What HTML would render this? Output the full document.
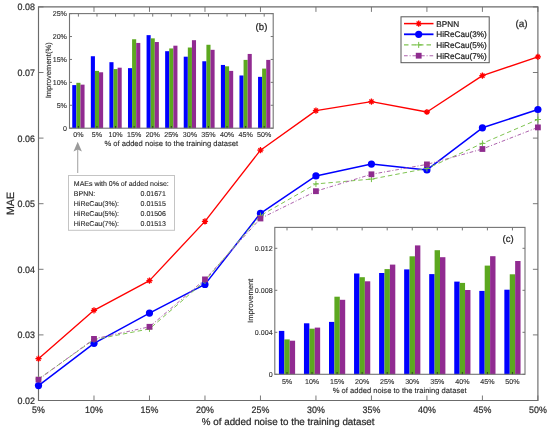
<!DOCTYPE html><html><head><meta charset="utf-8"><title>MAE vs noise</title>
<style>html,body{margin:0;padding:0;background:#fff;}svg{display:block;}text{text-rendering:geometricPrecision;font-family:'Liberation Sans', Arial, Helvetica, sans-serif;fill:#2a2a2a;}</style></head><body>
<svg width="550" height="432" viewBox="0 0 550 432">
<rect x="0" y="0" width="550" height="432" fill="#fff"/>
<path d="M38.50,400.50V395.50M38.50,6.90V11.90M93.99,400.50V395.50M93.99,6.90V11.90M149.48,400.50V395.50M149.48,6.90V11.90M204.97,400.50V395.50M204.97,6.90V11.90M260.46,400.50V395.50M260.46,6.90V11.90M315.94,400.50V395.50M315.94,6.90V11.90M371.43,400.50V395.50M371.43,6.90V11.90M426.92,400.50V395.50M426.92,6.90V11.90M482.41,400.50V395.50M482.41,6.90V11.90M537.90,400.50V395.50M537.90,6.90V11.90M38.50,400.50H43.50M537.90,400.50H532.90M38.50,334.90H43.50M537.90,334.90H532.90M38.50,269.30H43.50M537.90,269.30H532.90M38.50,203.70H43.50M537.90,203.70H532.90M38.50,138.10H43.50M537.90,138.10H532.90M38.50,72.50H43.50M537.90,72.50H532.90M38.50,6.90H43.50M537.90,6.90H532.90" stroke="#7a7a7a" stroke-width="1" fill="none"/>
<text transform="translate(38.50,412.80) scale(0.95,1)" font-size="9.37" text-anchor="middle" fill="#333" stroke="#333" stroke-width="0.22">5%</text>
<text transform="translate(93.99,412.80) scale(0.95,1)" font-size="9.37" text-anchor="middle" fill="#333" stroke="#333" stroke-width="0.22">10%</text>
<text transform="translate(149.48,412.80) scale(0.95,1)" font-size="9.37" text-anchor="middle" fill="#333" stroke="#333" stroke-width="0.22">15%</text>
<text transform="translate(204.97,412.80) scale(0.95,1)" font-size="9.37" text-anchor="middle" fill="#333" stroke="#333" stroke-width="0.22">20%</text>
<text transform="translate(260.46,412.80) scale(0.95,1)" font-size="9.37" text-anchor="middle" fill="#333" stroke="#333" stroke-width="0.22">25%</text>
<text transform="translate(315.94,412.80) scale(0.95,1)" font-size="9.37" text-anchor="middle" fill="#333" stroke="#333" stroke-width="0.22">30%</text>
<text transform="translate(371.43,412.80) scale(0.95,1)" font-size="9.37" text-anchor="middle" fill="#333" stroke="#333" stroke-width="0.22">35%</text>
<text transform="translate(426.92,412.80) scale(0.95,1)" font-size="9.37" text-anchor="middle" fill="#333" stroke="#333" stroke-width="0.22">40%</text>
<text transform="translate(482.41,412.80) scale(0.95,1)" font-size="9.37" text-anchor="middle" fill="#333" stroke="#333" stroke-width="0.22">45%</text>
<text transform="translate(537.90,412.80) scale(0.95,1)" font-size="9.37" text-anchor="middle" fill="#333" stroke="#333" stroke-width="0.22">50%</text>
<text transform="translate(34.90,404.00) scale(0.95,1)" font-size="9.37" text-anchor="end" fill="#333" stroke="#333" stroke-width="0.22">0.02</text>
<text transform="translate(34.90,338.40) scale(0.95,1)" font-size="9.37" text-anchor="end" fill="#333" stroke="#333" stroke-width="0.22">0.03</text>
<text transform="translate(34.90,272.80) scale(0.95,1)" font-size="9.37" text-anchor="end" fill="#333" stroke="#333" stroke-width="0.22">0.04</text>
<text transform="translate(34.90,207.20) scale(0.95,1)" font-size="9.37" text-anchor="end" fill="#333" stroke="#333" stroke-width="0.22">0.05</text>
<text transform="translate(34.90,141.60) scale(0.95,1)" font-size="9.37" text-anchor="end" fill="#333" stroke="#333" stroke-width="0.22">0.06</text>
<text transform="translate(34.90,76.00) scale(0.95,1)" font-size="9.37" text-anchor="end" fill="#333" stroke="#333" stroke-width="0.22">0.07</text>
<text transform="translate(34.90,10.40) scale(0.95,1)" font-size="9.37" text-anchor="end" fill="#333" stroke="#333" stroke-width="0.22">0.08</text>
<text transform="translate(288.20,424.90) scale(1.0,1)" font-size="9.80" text-anchor="middle" fill="#2a2a2a" stroke="#2a2a2a" stroke-width="0.22">% of added noise to the training dataset</text>
<text transform="translate(13.9,203.5) rotate(-90)" font-size="10.6" text-anchor="middle" stroke="#2a2a2a" stroke-width="0.22">MAE</text>
<text transform="translate(515.40,27.30) scale(1.0,1)" font-size="10.00" fill="#2a2a2a" stroke="#2a2a2a" stroke-width="0.22">(a)</text>
<path d="M38.50,6.90H537.90V400.50H38.50Z" fill="none" stroke="#6b6b6b" stroke-width="1.15"/>
<polyline points="38.50,358.70 93.99,310.30 149.48,280.60 204.97,221.40 260.46,150.20 315.94,110.60 371.43,101.60 426.92,112.00 482.41,75.60 537.90,56.80" fill="none" stroke="#ff0000" stroke-width="1.35" stroke-linejoin="round"/>
<path d="M38.50,361.80L38.50,355.60M36.42,360.78L40.58,356.62M35.40,358.70L41.60,358.70M36.42,356.62L40.58,360.78" stroke="#ff0000" stroke-width="1.3" fill="none"/><circle cx="38.50" cy="358.70" r="1.3" fill="#ff0000"/>
<path d="M93.99,313.40L93.99,307.20M91.91,312.38L96.07,308.22M90.89,310.30L97.09,310.30M91.91,308.22L96.07,312.38" stroke="#ff0000" stroke-width="1.3" fill="none"/><circle cx="93.99" cy="310.30" r="1.3" fill="#ff0000"/>
<path d="M149.48,283.70L149.48,277.50M147.40,282.68L151.56,278.52M146.38,280.60L152.58,280.60M147.40,278.52L151.56,282.68" stroke="#ff0000" stroke-width="1.3" fill="none"/><circle cx="149.48" cy="280.60" r="1.3" fill="#ff0000"/>
<path d="M204.97,224.50L204.97,218.30M202.88,223.48L207.05,219.32M201.87,221.40L208.07,221.40M202.88,219.32L207.05,223.48" stroke="#ff0000" stroke-width="1.3" fill="none"/><circle cx="204.97" cy="221.40" r="1.3" fill="#ff0000"/>
<path d="M260.46,153.30L260.46,147.10M258.37,152.28L262.54,148.12M257.36,150.20L263.56,150.20M258.37,148.12L262.54,152.28" stroke="#ff0000" stroke-width="1.3" fill="none"/><circle cx="260.46" cy="150.20" r="1.3" fill="#ff0000"/>
<path d="M315.94,113.70L315.94,107.50M313.86,112.68L318.03,108.52M312.84,110.60L319.04,110.60M313.86,108.52L318.03,112.68" stroke="#ff0000" stroke-width="1.3" fill="none"/><circle cx="315.94" cy="110.60" r="1.3" fill="#ff0000"/>
<path d="M371.43,104.70L371.43,98.50M369.35,103.68L373.52,99.52M368.33,101.60L374.53,101.60M369.35,99.52L373.52,103.68" stroke="#ff0000" stroke-width="1.3" fill="none"/><circle cx="371.43" cy="101.60" r="1.3" fill="#ff0000"/>
<path d="M426.92,115.10L426.92,108.90M424.84,114.08L429.00,109.92M423.82,112.00L430.02,112.00M424.84,109.92L429.00,114.08" stroke="#ff0000" stroke-width="1.3" fill="none"/><circle cx="426.92" cy="112.00" r="1.3" fill="#ff0000"/>
<path d="M482.41,78.70L482.41,72.50M480.33,77.68L484.49,73.52M479.31,75.60L485.51,75.60M480.33,73.52L484.49,77.68" stroke="#ff0000" stroke-width="1.3" fill="none"/><circle cx="482.41" cy="75.60" r="1.3" fill="#ff0000"/>
<path d="M537.90,59.90L537.90,53.70M535.82,58.88L539.98,54.72M534.80,56.80L541.00,56.80M535.82,54.72L539.98,58.88" stroke="#ff0000" stroke-width="1.3" fill="none"/><circle cx="537.90" cy="56.80" r="1.3" fill="#ff0000"/>
<polyline points="38.50,385.60 93.99,343.30 149.48,313.10 204.97,284.40 260.46,213.30 315.94,175.90 371.43,164.10 426.92,169.90 482.41,127.80 537.90,109.50" fill="none" stroke="#0000ff" stroke-width="1.5" stroke-linejoin="round"/>
<circle cx="38.50" cy="385.60" r="3.6" fill="#0000ff"/>
<circle cx="93.99" cy="343.30" r="3.6" fill="#0000ff"/>
<circle cx="149.48" cy="313.10" r="3.6" fill="#0000ff"/>
<circle cx="204.97" cy="284.40" r="3.6" fill="#0000ff"/>
<circle cx="260.46" cy="213.30" r="3.6" fill="#0000ff"/>
<circle cx="315.94" cy="175.90" r="3.6" fill="#0000ff"/>
<circle cx="371.43" cy="164.10" r="3.6" fill="#0000ff"/>
<circle cx="426.92" cy="169.90" r="3.6" fill="#0000ff"/>
<circle cx="482.41" cy="127.80" r="3.6" fill="#0000ff"/>
<circle cx="537.90" cy="109.50" r="3.6" fill="#0000ff"/>
<polyline points="38.50,379.00 93.99,339.60 149.48,328.90 204.97,281.00 260.46,215.60 315.94,183.90 371.43,179.10 426.92,168.50 482.41,143.40 537.90,119.50" fill="none" stroke="#80c452" stroke-width="1.0" stroke-dasharray="4.5,3" stroke-linejoin="round"/>
<path d="M35.50,379.00H41.50M38.50,376.00V382.00" stroke="#74bf45" stroke-width="1.0" fill="none"/>
<path d="M90.99,339.60H96.99M93.99,336.60V342.60" stroke="#74bf45" stroke-width="1.0" fill="none"/>
<path d="M146.48,328.90H152.48M149.48,325.90V331.90" stroke="#74bf45" stroke-width="1.0" fill="none"/>
<path d="M201.97,281.00H207.97M204.97,278.00V284.00" stroke="#74bf45" stroke-width="1.0" fill="none"/>
<path d="M257.46,215.60H263.46M260.46,212.60V218.60" stroke="#74bf45" stroke-width="1.0" fill="none"/>
<path d="M312.94,183.90H318.94M315.94,180.90V186.90" stroke="#74bf45" stroke-width="1.0" fill="none"/>
<path d="M368.43,179.10H374.43M371.43,176.10V182.10" stroke="#74bf45" stroke-width="1.0" fill="none"/>
<path d="M423.92,168.50H429.92M426.92,165.50V171.50" stroke="#74bf45" stroke-width="1.0" fill="none"/>
<path d="M479.41,143.40H485.41M482.41,140.40V146.40" stroke="#74bf45" stroke-width="1.0" fill="none"/>
<path d="M534.90,119.50H540.90M537.90,116.50V122.50" stroke="#74bf45" stroke-width="1.0" fill="none"/>
<polyline points="38.50,379.60 93.99,338.90 149.48,326.80 204.97,279.40 260.46,218.50 315.94,191.20 371.43,174.30 426.92,164.40 482.41,149.00 537.90,127.40" fill="none" stroke="#ad62ad" stroke-width="1.0" stroke-dasharray="3.7,1.9,1,1.9" stroke-linejoin="round"/>
<rect x="35.60" y="376.70" width="5.8" height="5.8" fill="#8e2c8e"/>
<rect x="91.09" y="336.00" width="5.8" height="5.8" fill="#8e2c8e"/>
<rect x="146.58" y="323.90" width="5.8" height="5.8" fill="#8e2c8e"/>
<rect x="202.07" y="276.50" width="5.8" height="5.8" fill="#8e2c8e"/>
<rect x="257.56" y="215.60" width="5.8" height="5.8" fill="#8e2c8e"/>
<rect x="313.04" y="188.30" width="5.8" height="5.8" fill="#8e2c8e"/>
<rect x="368.53" y="171.40" width="5.8" height="5.8" fill="#8e2c8e"/>
<rect x="424.02" y="161.50" width="5.8" height="5.8" fill="#8e2c8e"/>
<rect x="479.51" y="146.10" width="5.8" height="5.8" fill="#8e2c8e"/>
<rect x="535.00" y="124.50" width="5.8" height="5.8" fill="#8e2c8e"/>
<rect x="401.0" y="16.8" width="88.20" height="45.90" fill="#fff" stroke="#555" stroke-width="1"/>
<line x1="404.0" y1="23.6" x2="433.5" y2="23.6" stroke="#ff0000" stroke-width="1.5"/>
<path d="M418.70,26.70L418.70,20.50M416.62,25.68L420.78,21.52M415.60,23.60L421.80,23.60M416.62,21.52L420.78,25.68" stroke="#ff0000" stroke-width="1.3" fill="none"/><circle cx="418.70" cy="23.60" r="1.3" fill="#ff0000"/>
<line x1="404.0" y1="34.3" x2="433.5" y2="34.3" stroke="#0000ff" stroke-width="1.8"/>
<circle cx="418.70" cy="34.30" r="3.6" fill="#0000ff"/>
<line x1="404.0" y1="44.9" x2="433.5" y2="44.9" stroke="#80c452" stroke-width="1.1" stroke-dasharray="4.5,3"/>
<path d="M415.70,44.90H421.70M418.70,41.90V47.90" stroke="#74bf45" stroke-width="1.0" fill="none"/>
<line x1="404.0" y1="55.7" x2="433.5" y2="55.7" stroke="#ad62ad" stroke-width="1.1" stroke-dasharray="3.7,1.9,1,1.9"/>
<rect x="415.80" y="52.80" width="5.8" height="5.8" fill="#8e2c8e"/>
<text transform="translate(436.30,26.60) scale(1.0,1)" font-size="8.20" fill="#1a1a1a" stroke="#1a1a1a" stroke-width="0.22">BPNN</text>
<text transform="translate(436.30,37.30) scale(1.0,1)" font-size="8.20" fill="#1a1a1a" stroke="#1a1a1a" stroke-width="0.22">HiReCau(3%)</text>
<text transform="translate(436.30,47.90) scale(1.0,1)" font-size="8.20" fill="#1a1a1a" stroke="#1a1a1a" stroke-width="0.22">HiReCau(5%)</text>
<text transform="translate(436.30,58.70) scale(1.0,1)" font-size="8.20" fill="#1a1a1a" stroke="#1a1a1a" stroke-width="0.22">HiReCau(7%)</text>
<rect x="69.5" y="13.6" width="203.7" height="114.60" fill="#fff"/>
<rect x="72.25" y="85.11" width="4.1" height="43.09" fill="#0000ff"/>
<rect x="76.35" y="82.82" width="4.1" height="45.38" fill="#5ca81f"/>
<rect x="80.45" y="84.65" width="4.1" height="43.55" fill="#912b91"/>
<rect x="90.83" y="56.23" width="4.1" height="71.97" fill="#0000ff"/>
<rect x="94.93" y="70.90" width="4.1" height="57.30" fill="#5ca81f"/>
<rect x="99.03" y="72.28" width="4.1" height="55.92" fill="#912b91"/>
<rect x="109.41" y="62.19" width="4.1" height="66.01" fill="#0000ff"/>
<rect x="113.51" y="69.07" width="4.1" height="59.13" fill="#5ca81f"/>
<rect x="117.61" y="67.69" width="4.1" height="60.51" fill="#912b91"/>
<rect x="127.99" y="68.15" width="4.1" height="60.05" fill="#0000ff"/>
<rect x="132.09" y="39.27" width="4.1" height="88.93" fill="#5ca81f"/>
<rect x="136.19" y="42.94" width="4.1" height="85.26" fill="#912b91"/>
<rect x="146.57" y="35.14" width="4.1" height="93.06" fill="#0000ff"/>
<rect x="150.67" y="38.35" width="4.1" height="89.85" fill="#5ca81f"/>
<rect x="154.77" y="42.02" width="4.1" height="86.18" fill="#912b91"/>
<rect x="165.15" y="51.19" width="4.1" height="77.01" fill="#0000ff"/>
<rect x="169.25" y="48.44" width="4.1" height="79.76" fill="#5ca81f"/>
<rect x="173.35" y="45.69" width="4.1" height="82.51" fill="#912b91"/>
<rect x="183.73" y="56.69" width="4.1" height="71.51" fill="#0000ff"/>
<rect x="187.83" y="47.52" width="4.1" height="80.68" fill="#5ca81f"/>
<rect x="191.93" y="40.19" width="4.1" height="88.01" fill="#912b91"/>
<rect x="202.31" y="61.27" width="4.1" height="66.93" fill="#0000ff"/>
<rect x="206.41" y="44.77" width="4.1" height="83.43" fill="#5ca81f"/>
<rect x="210.51" y="49.81" width="4.1" height="78.39" fill="#912b91"/>
<rect x="220.89" y="64.94" width="4.1" height="63.26" fill="#0000ff"/>
<rect x="224.99" y="66.32" width="4.1" height="61.88" fill="#5ca81f"/>
<rect x="229.09" y="70.90" width="4.1" height="57.30" fill="#912b91"/>
<rect x="239.47" y="75.48" width="4.1" height="52.72" fill="#0000ff"/>
<rect x="243.57" y="59.90" width="4.1" height="68.30" fill="#5ca81f"/>
<rect x="247.67" y="53.94" width="4.1" height="74.26" fill="#912b91"/>
<rect x="258.05" y="76.86" width="4.1" height="51.34" fill="#0000ff"/>
<rect x="262.15" y="68.61" width="4.1" height="59.59" fill="#5ca81f"/>
<rect x="266.25" y="59.90" width="4.1" height="68.30" fill="#912b91"/>
<path d="M78.40,13.6V16.6M96.98,13.6V16.6M115.56,13.6V16.6M134.14,13.6V16.6M152.72,13.6V16.6M171.30,13.6V16.6M189.88,13.6V16.6M208.46,13.6V16.6M227.04,13.6V16.6M245.62,13.6V16.6M264.20,13.6V16.6M69.5,128.20H72.0M273.2,128.20H270.7M69.5,105.28H72.0M273.2,105.28H270.7M69.5,82.36H72.0M273.2,82.36H270.7M69.5,59.44H72.0M273.2,59.44H270.7M69.5,36.52H72.0M273.2,36.52H270.7M69.5,13.60H72.0M273.2,13.60H270.7" stroke="#666" stroke-width="0.9" fill="none"/>
<path d="M78.40,128.2V125.99999999999999M96.98,128.2V125.99999999999999M115.56,128.2V125.99999999999999M134.14,128.2V125.99999999999999M152.72,128.2V125.99999999999999M171.30,128.2V125.99999999999999M189.88,128.2V125.99999999999999M208.46,128.2V125.99999999999999M227.04,128.2V125.99999999999999M245.62,128.2V125.99999999999999M264.20,128.2V125.99999999999999" stroke="#222" stroke-width="0.9" fill="none"/>
<rect x="69.5" y="13.6" width="203.7" height="114.60" fill="none" stroke="#747474" stroke-width="1.1"/>
<text transform="translate(78.40,137.10) scale(1.0,1)" font-size="7.10" text-anchor="middle" fill="#333" stroke="#333" stroke-width="0.12">0%</text>
<text transform="translate(96.98,137.10) scale(1.0,1)" font-size="7.10" text-anchor="middle" fill="#333" stroke="#333" stroke-width="0.12">5%</text>
<text transform="translate(115.56,137.10) scale(1.0,1)" font-size="7.10" text-anchor="middle" fill="#333" stroke="#333" stroke-width="0.12">10%</text>
<text transform="translate(134.14,137.10) scale(1.0,1)" font-size="7.10" text-anchor="middle" fill="#333" stroke="#333" stroke-width="0.12">15%</text>
<text transform="translate(152.72,137.10) scale(1.0,1)" font-size="7.10" text-anchor="middle" fill="#333" stroke="#333" stroke-width="0.12">20%</text>
<text transform="translate(171.30,137.10) scale(1.0,1)" font-size="7.10" text-anchor="middle" fill="#333" stroke="#333" stroke-width="0.12">25%</text>
<text transform="translate(189.88,137.10) scale(1.0,1)" font-size="7.10" text-anchor="middle" fill="#333" stroke="#333" stroke-width="0.12">30%</text>
<text transform="translate(208.46,137.10) scale(1.0,1)" font-size="7.10" text-anchor="middle" fill="#333" stroke="#333" stroke-width="0.12">35%</text>
<text transform="translate(227.04,137.10) scale(1.0,1)" font-size="7.10" text-anchor="middle" fill="#333" stroke="#333" stroke-width="0.12">40%</text>
<text transform="translate(245.62,137.10) scale(1.0,1)" font-size="7.10" text-anchor="middle" fill="#333" stroke="#333" stroke-width="0.12">45%</text>
<text transform="translate(264.20,137.10) scale(1.0,1)" font-size="7.10" text-anchor="middle" fill="#333" stroke="#333" stroke-width="0.12">50%</text>
<text transform="translate(66.90,130.80) scale(1.0,1)" font-size="7.10" text-anchor="end" fill="#333" stroke="#333" stroke-width="0.12">0</text>
<text transform="translate(66.90,107.88) scale(1.0,1)" font-size="7.10" text-anchor="end" fill="#333" stroke="#333" stroke-width="0.12">5%</text>
<text transform="translate(66.90,84.96) scale(1.0,1)" font-size="7.10" text-anchor="end" fill="#333" stroke="#333" stroke-width="0.12">10%</text>
<text transform="translate(66.90,62.04) scale(1.0,1)" font-size="7.10" text-anchor="end" fill="#333" stroke="#333" stroke-width="0.12">15%</text>
<text transform="translate(66.90,39.12) scale(1.0,1)" font-size="7.10" text-anchor="end" fill="#333" stroke="#333" stroke-width="0.12">20%</text>
<text transform="translate(66.90,16.20) scale(1.0,1)" font-size="7.10" text-anchor="end" fill="#333" stroke="#333" stroke-width="0.12">25%</text>
<text transform="translate(171.30,146.40) scale(1.0,1)" font-size="7.60" text-anchor="middle" fill="#2a2a2a" stroke="#2a2a2a" stroke-width="0.12">% of added noise to the training dataset</text>
<text transform="translate(50.8,70.3) rotate(-90)" font-size="7.6" text-anchor="middle" stroke="#2a2a2a" stroke-width="0.12">Improvement(%)</text>
<text transform="translate(255.60,30.20) scale(1.0,1)" font-size="9.60" fill="#1a1a1a" stroke="#1a1a1a" stroke-width="0.22">(b)</text>
<line x1="77.7" y1="173" x2="77.7" y2="149" stroke="#a8a8a8" stroke-width="1.1"/>
<path d="M77.7,141.7 L81.9,151.6 L77.7,149.6 L73.5,151.6 Z" fill="#9a9a9a"/>
<rect x="68.5" y="175.5" width="106" height="54.8" fill="#fff" stroke="#c4c4c4" stroke-width="1"/>
<text transform="translate(73.80,185.90) scale(1.0,1)" font-size="7.00" fill="#262626" stroke="#262626" stroke-width="0.12">MAEs with 0% of added noise:</text>
<text transform="translate(73.80,195.80) scale(1.0,1)" font-size="7.00" fill="#262626" stroke="#262626" stroke-width="0.12">BPNN:</text>
<text transform="translate(140.60,195.80) scale(1.0,1)" font-size="7.00" fill="#262626" stroke="#262626" stroke-width="0.12">0.01671</text>
<text transform="translate(73.80,205.70) scale(1.0,1)" font-size="7.00" fill="#262626" stroke="#262626" stroke-width="0.12">HiReCau(3%):</text>
<text transform="translate(140.60,205.70) scale(1.0,1)" font-size="7.00" fill="#262626" stroke="#262626" stroke-width="0.12">0.01515</text>
<text transform="translate(73.80,215.60) scale(1.0,1)" font-size="7.00" fill="#262626" stroke="#262626" stroke-width="0.12">HiReCau(5%):</text>
<text transform="translate(140.60,215.60) scale(1.0,1)" font-size="7.00" fill="#262626" stroke="#262626" stroke-width="0.12">0.01506</text>
<text transform="translate(73.80,225.50) scale(1.0,1)" font-size="7.00" fill="#262626" stroke="#262626" stroke-width="0.12">HiReCau(7%):</text>
<text transform="translate(140.60,225.50) scale(1.0,1)" font-size="7.00" fill="#262626" stroke="#262626" stroke-width="0.12">0.01513</text>
<rect x="274.8" y="227.4" width="250.20" height="146.90" fill="#fff"/>
<rect x="278.90" y="330.90" width="5.4" height="43.40" fill="#0000ff"/>
<rect x="284.30" y="339.40" width="5.4" height="34.90" fill="#5ca81f"/>
<rect x="289.70" y="340.70" width="5.4" height="33.60" fill="#912b91"/>
<rect x="303.95" y="323.30" width="5.4" height="51.00" fill="#0000ff"/>
<rect x="309.35" y="328.70" width="5.4" height="45.60" fill="#5ca81f"/>
<rect x="314.75" y="327.60" width="5.4" height="46.70" fill="#912b91"/>
<rect x="329.00" y="321.90" width="5.4" height="52.40" fill="#0000ff"/>
<rect x="334.40" y="296.70" width="5.4" height="77.60" fill="#5ca81f"/>
<rect x="339.80" y="299.80" width="5.4" height="74.50" fill="#912b91"/>
<rect x="354.05" y="273.50" width="5.4" height="100.80" fill="#0000ff"/>
<rect x="359.45" y="277.20" width="5.4" height="97.10" fill="#5ca81f"/>
<rect x="364.85" y="281.30" width="5.4" height="93.00" fill="#912b91"/>
<rect x="379.10" y="273.00" width="5.4" height="101.30" fill="#0000ff"/>
<rect x="384.50" y="269.10" width="5.4" height="105.20" fill="#5ca81f"/>
<rect x="389.90" y="264.60" width="5.4" height="109.70" fill="#912b91"/>
<rect x="404.15" y="269.40" width="5.4" height="104.90" fill="#0000ff"/>
<rect x="409.55" y="256.30" width="5.4" height="118.00" fill="#5ca81f"/>
<rect x="414.95" y="245.40" width="5.4" height="128.90" fill="#912b91"/>
<rect x="429.20" y="274.10" width="5.4" height="100.20" fill="#0000ff"/>
<rect x="434.60" y="250.20" width="5.4" height="124.10" fill="#5ca81f"/>
<rect x="440.00" y="257.20" width="5.4" height="117.10" fill="#912b91"/>
<rect x="454.25" y="281.60" width="5.4" height="92.70" fill="#0000ff"/>
<rect x="459.65" y="282.90" width="5.4" height="91.40" fill="#5ca81f"/>
<rect x="465.05" y="290.00" width="5.4" height="84.30" fill="#912b91"/>
<rect x="479.30" y="290.90" width="5.4" height="83.40" fill="#0000ff"/>
<rect x="484.70" y="265.60" width="5.4" height="108.70" fill="#5ca81f"/>
<rect x="490.10" y="256.20" width="5.4" height="118.10" fill="#912b91"/>
<rect x="504.35" y="289.70" width="5.4" height="84.60" fill="#0000ff"/>
<rect x="509.75" y="274.30" width="5.4" height="100.00" fill="#5ca81f"/>
<rect x="515.15" y="261.00" width="5.4" height="113.30" fill="#912b91"/>
<path d="M287.00,227.4V230.4M312.05,227.4V230.4M337.10,227.4V230.4M362.15,227.4V230.4M387.20,227.4V230.4M412.25,227.4V230.4M437.30,227.4V230.4M462.35,227.4V230.4M487.40,227.4V230.4M512.45,227.4V230.4M274.8,374.30H277.3M525.0,374.30H522.5M274.8,332.30H277.3M525.0,332.30H522.5M274.8,290.30H277.3M525.0,290.30H522.5M274.8,248.30H277.3M525.0,248.30H522.5" stroke="#666" stroke-width="0.9" fill="none"/>
<path d="M287.00,374.3V372.1M312.05,374.3V372.1M337.10,374.3V372.1M362.15,374.3V372.1M387.20,374.3V372.1M412.25,374.3V372.1M437.30,374.3V372.1M462.35,374.3V372.1M487.40,374.3V372.1M512.45,374.3V372.1" stroke="#222" stroke-width="0.9" fill="none"/>
<rect x="274.8" y="227.4" width="250.20" height="146.90" fill="none" stroke="#747474" stroke-width="1.1"/>
<text transform="translate(287.00,383.60) scale(1.0,1)" font-size="7.10" text-anchor="middle" fill="#333" stroke="#333" stroke-width="0.12">5%</text>
<text transform="translate(312.05,383.60) scale(1.0,1)" font-size="7.10" text-anchor="middle" fill="#333" stroke="#333" stroke-width="0.12">10%</text>
<text transform="translate(337.10,383.60) scale(1.0,1)" font-size="7.10" text-anchor="middle" fill="#333" stroke="#333" stroke-width="0.12">15%</text>
<text transform="translate(362.15,383.60) scale(1.0,1)" font-size="7.10" text-anchor="middle" fill="#333" stroke="#333" stroke-width="0.12">20%</text>
<text transform="translate(387.20,383.60) scale(1.0,1)" font-size="7.10" text-anchor="middle" fill="#333" stroke="#333" stroke-width="0.12">25%</text>
<text transform="translate(412.25,383.60) scale(1.0,1)" font-size="7.10" text-anchor="middle" fill="#333" stroke="#333" stroke-width="0.12">30%</text>
<text transform="translate(437.30,383.60) scale(1.0,1)" font-size="7.10" text-anchor="middle" fill="#333" stroke="#333" stroke-width="0.12">35%</text>
<text transform="translate(462.35,383.60) scale(1.0,1)" font-size="7.10" text-anchor="middle" fill="#333" stroke="#333" stroke-width="0.12">40%</text>
<text transform="translate(487.40,383.60) scale(1.0,1)" font-size="7.10" text-anchor="middle" fill="#333" stroke="#333" stroke-width="0.12">45%</text>
<text transform="translate(512.45,383.60) scale(1.0,1)" font-size="7.10" text-anchor="middle" fill="#333" stroke="#333" stroke-width="0.12">50%</text>
<text transform="translate(272.60,376.90) scale(1.0,1)" font-size="7.10" text-anchor="end" fill="#333" stroke="#333" stroke-width="0.12">0</text>
<text transform="translate(272.60,334.90) scale(1.0,1)" font-size="7.10" text-anchor="end" fill="#333" stroke="#333" stroke-width="0.12">0.004</text>
<text transform="translate(272.60,292.90) scale(1.0,1)" font-size="7.10" text-anchor="end" fill="#333" stroke="#333" stroke-width="0.12">0.008</text>
<text transform="translate(272.60,250.90) scale(1.0,1)" font-size="7.10" text-anchor="end" fill="#333" stroke="#333" stroke-width="0.12">0.012</text>
<text transform="translate(399.60,393.20) scale(1.0,1)" font-size="7.60" text-anchor="middle" fill="#2a2a2a" stroke="#2a2a2a" stroke-width="0.12">% of added noise to the training dataset</text>
<text transform="translate(253.3,300.8) rotate(-90)" font-size="7.6" text-anchor="middle" stroke="#2a2a2a" stroke-width="0.12">Improvement</text>
<text transform="translate(502.60,242.00) scale(1.0,1)" font-size="9.60" fill="#1a1a1a" stroke="#1a1a1a" stroke-width="0.22">(c)</text>
</svg></body></html>
